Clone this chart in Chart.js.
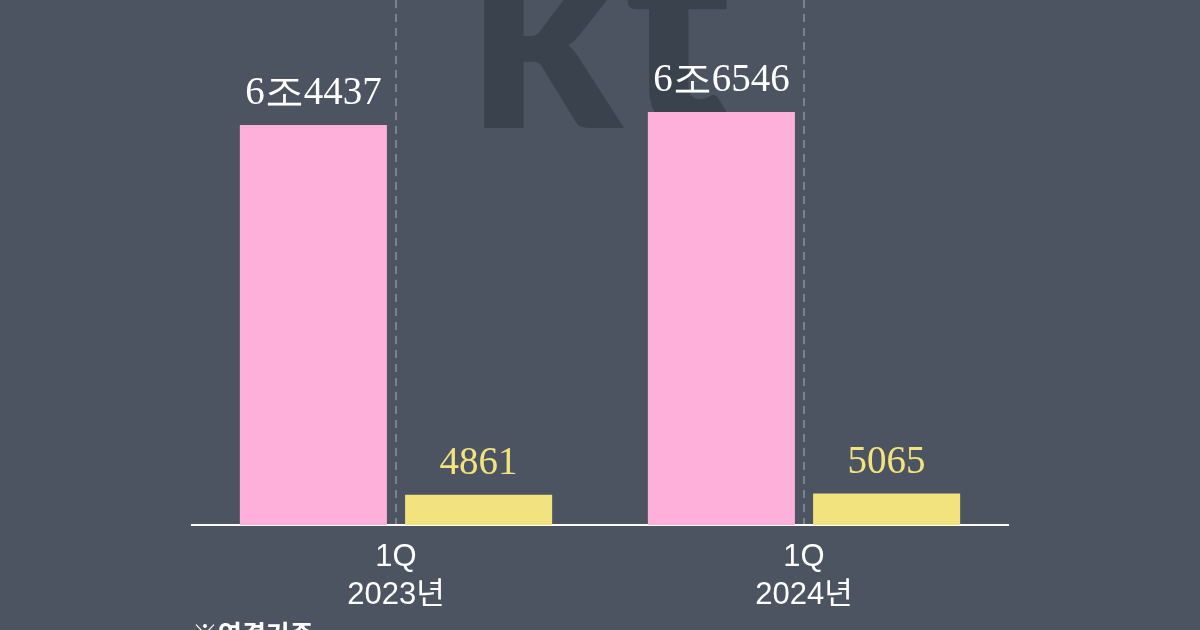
<!DOCTYPE html>
<html lang="ko">
<head>
  <meta charset="UTF-8">
  <title>KT 1분기 실적</title>
  <script src="https://cdn.jsdelivr.net/npm/chart.js"></script>
  <style>
    html, body { margin: 0; padding: 0; background: #4b5460; }
    #wrap { width: 1200px; height: 630px; position: relative; }
  </style>
</head>
<body>
  <div id="wrap"><canvas id="ktChart" width="1200" height="630"></canvas></div>

  <script>
    // 단위: 억원
    const quarters = [["1Q", "2023년"], ["1Q", "2024년"]];
    const revenue = [64437, 66546];
    const opProfit = [4861, 5065];
    const note = "※연결기준";

    const fmt = v => v >= 10000 ? Math.floor(v / 10000) + "조" + (v % 10000) : String(v);

    // kt 워터마크 (배경)
    const watermark = {
      id: 'watermark',
      beforeDatasetsDraw(chart) {
        const ctx = chart.ctx;
        ctx.save();
        ctx.fillStyle = '#3a424d';
        ctx.font = '900 285px Lato';
        ctx.textAlign = 'left';
        ctx.textBaseline = 'alphabetic';
        ctx.fillText('kt', 468, 128);
        ctx.restore();
      }
    };

    // 막대 위 수치
    const valueLabels = {
      id: 'valueLabels',
      afterDatasetsDraw(chart) {
        const ctx = chart.ctx;
        ctx.save();
        ctx.textAlign = 'center';
        ctx.textBaseline = 'alphabetic';
        ctx.font = '39px "Liberation Serif", serif';
        chart.data.datasets.forEach((ds, i) => {
          const meta = chart.getDatasetMeta(i);
          ctx.fillStyle = ds.labelColor;
          meta.data.forEach((bar, j) => {
            ctx.fillText(fmt(ds.data[j]), bar.x, bar.y - 21);
          });
        });
        // 하단 주석
        ctx.fillStyle = '#ffffff';
        ctx.textAlign = 'left';
        ctx.textBaseline = 'top';
        ctx.font = 'bold 26px "Noto Sans CJK KR"';
        ctx.fillText(note, 192, 621);
        ctx.restore();
      }
    };

    const ctx = document.getElementById('ktChart').getContext('2d');
    new Chart(ctx, {
      type: 'bar',
      data: {
        labels: quarters,
        datasets: [
          { label: '매출', data: revenue, backgroundColor: '#ffb0da', labelColor: '#ffffff' },
          { label: '영업이익', data: opProfit, backgroundColor: '#f3e37f', labelColor: '#f3e37f' }
        ]
      },
      options: {
        responsive: false,
        animation: false,
        layout: { padding: { left: 192, right: 192, top: 0, bottom: 0 } },
        datasets: {
          bar: { categoryPercentage: 0.81, barPercentage: 0.89 }
        },
        plugins: {
          legend: { display: false },
          tooltip: { enabled: false }
        },
        scales: {
          x: {
            afterFit(scale) { scale.height = 105; },
            grid: {
              display: true,
              offset: false,
              drawTicks: false,
              color: '#7a828d',
              lineWidth: 2
            },
            border: { display: true, color: '#ffffff', width: 2, dash: [8, 6] },
            ticks: {
              color: '#ffffff',
              padding: 14,
              font: { family: '"Liberation Sans", "Noto Sans CJK KR"', size: 31, lineHeight: 1.22 }
            }
          },
          y: {
            display: false,
            min: 0,
            max: 84570
          }
        }
      },
      plugins: [watermark, valueLabels]
    });
  </script>
</body>
</html>
